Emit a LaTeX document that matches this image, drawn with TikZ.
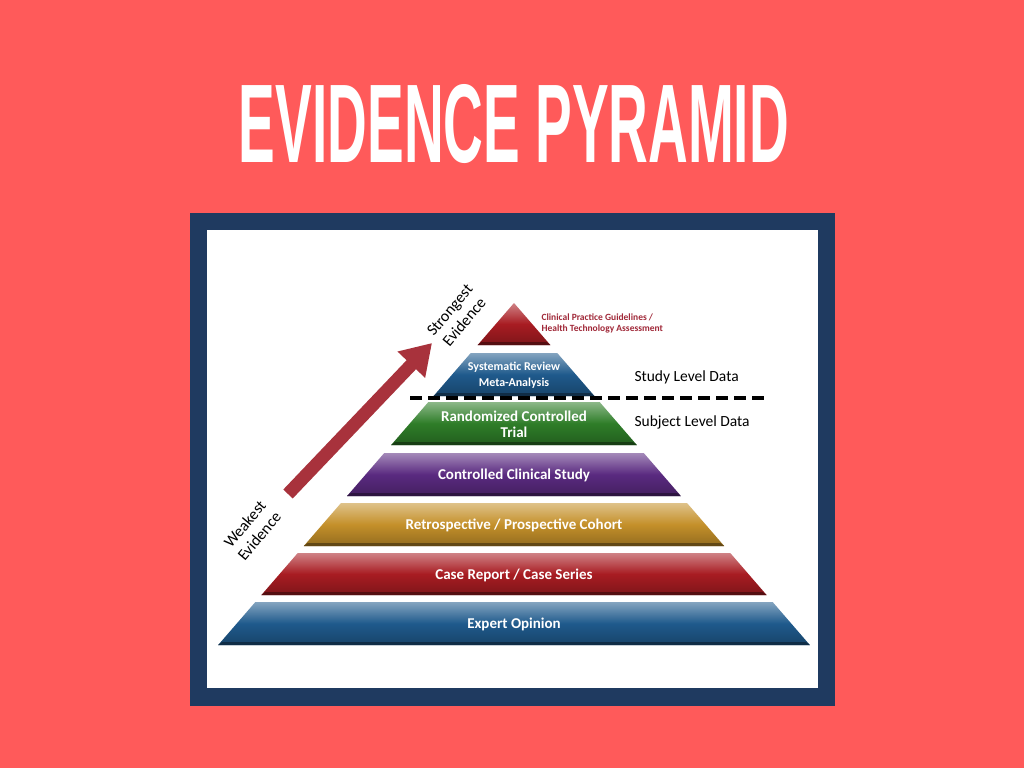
\documentclass[tikz,border=0pt]{standalone}
\usepackage{fontspec}
\setmainfont{Carlito}
\newfontfamily\titlefont{Liberation Sans}
\usetikzlibrary{arrows.meta}
\definecolor{bgred}{HTML}{FF5A5A}
\definecolor{navy}{HTML}{1F3A60}
\definecolor{lvblue}{HTML}{1F5A8C}
\definecolor{lvred}{HTML}{A81C22}
\definecolor{lvgold}{HTML}{C4902A}
\definecolor{lvpurple}{HTML}{5A2A80}
\definecolor{lvgreen}{HTML}{2E7D28}
\definecolor{arrowred}{HTML}{A8323C}
\definecolor{cpgred}{HTML}{A02838}
\tikzset{
  lvtext/.style={text=white,font=\bfseries\fontsize{15}{16}\selectfont,align=center},
  sidetext/.style={font=\fontsize{15.5}{17}\selectfont,anchor=west},
  evtext/.style={font=\fontsize{16}{19}\selectfont,align=center,rotate=50}
}
\begin{document}
\begin{tikzpicture}[x=1pt,y=-1pt]
\fill[bgred] (0,0) rectangle (1024,768);
\useasboundingbox (0,0) rectangle (1024,768);

% title
\node[text=white] (title) at (514,124) {\resizebox{550pt}{78pt}{\titlefont\bfseries EVIDENCE PYRAMID}};

% frame
\fill[navy] (190,213) rectangle (835,706);
\fill[white] (207,230) rectangle (818,688);

% pyramid levels
\foreach \ya/\yb/\col/\txt/\nm in {602/645/lvblue/{Expert Opinion}/expert,
    553/595/lvred/{Case Report / Case Series}/casereport,
    503/546/lvgold/{Retrospective / Prospective Cohort}/cohort,
    453/496/lvpurple/{Controlled Clinical Study}/clinical,
    402/445/lvgreen/{Randomized Controlled\\Trial}/rct,
    353/396/lvblue/{\fontsize{12}{13.5}\selectfont Systematic Review\\\fontsize{12}{13.5}\selectfont Meta-Analysis}/review,
    303/345/lvred/{}/guideline}{
  \shade[top color=\col!55!white, bottom color=\col!75!black, middle color=\col]
    ({514-(\ya-303)*0.865},\ya) -- ({514+(\ya-303)*0.865},\ya)
    -- ({514+(\yb-303)*0.865},\yb) -- ({514-(\yb-303)*0.865},\yb) -- cycle;
  \fill[\col!50!black] ({514-(\yb-303)*0.865},\yb) -- ({514+(\yb-303)*0.865},\yb)
    -- ({514+(\yb-303)*0.865-4},{\yb-3}) -- ({514-(\yb-303)*0.865+4},{\yb-3}) -- cycle;
  \node[lvtext] (\nm) at (514,{(\ya+\yb)/2+1}) {\txt};
}

% top label
\node[anchor=west,text=cpgred,font=\bfseries\fontsize{9.5}{11}\selectfont,align=left] (cpg) at (538,323)
  {Clinical Practice Guidelines /\\Health Technology Assessment};

% data split
\coordinate (dashl) at (410,398);
\coordinate (dashr) at (768,398);
\draw[line width=3.5pt,dash pattern=on 12pt off 6pt] (dashl) -- (dashr);
\node[sidetext] (study) at (631,377) {Study Level Data};
\node[sidetext] (subject) at (631,422) {Subject Level Data};

% strength arrow
\coordinate (tail) at (288,494);
\coordinate (tip) at (432,343);
\draw[arrowred,line width=13pt,-{Triangle[width=36pt,length=30pt]}] (tail) -- (tip);
\node[evtext] (weak) at (252,530) {Weakest\\Evidence};
\node[evtext] (strong) at (457,316) {Strongest\\Evidence};
\end{tikzpicture}
\end{document}
